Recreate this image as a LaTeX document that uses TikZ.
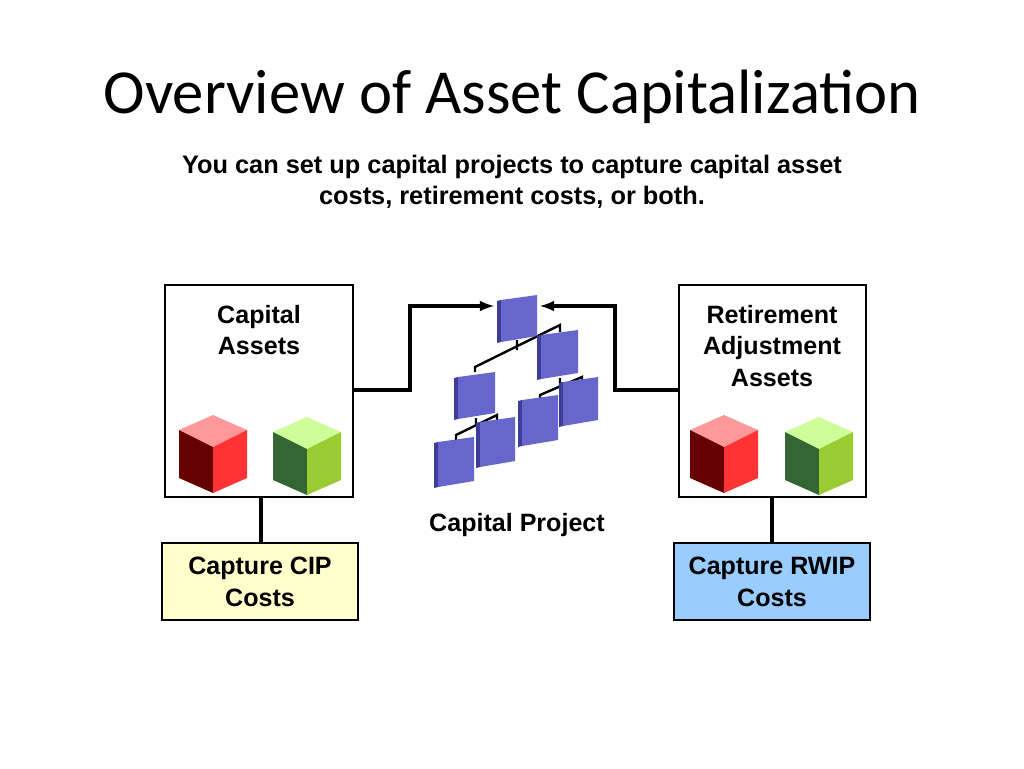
\documentclass[tikz,border=0pt]{standalone}
\usepackage{fontspec}
\setmainfont{Liberation Sans}
\newfontfamily\titlefont{Carlito}
\begin{document}
\begin{tikzpicture}[x=0.75pt,y=-0.75pt,
  frame/.style={draw,line width=2pt},
  lbl/.style={font=\bfseries\fontsize{18.8}{23.5}\selectfont,align=center},
  conn/.style={line width=2.6pt},
  org/.style={line width=1.8pt}]
\useasboundingbox (0,0) rectangle (1024,768);
\node[font=\titlefont\fontsize{47}{56}\selectfont] (title) at (512,97) {Overview of Asset Capitalization};
\node[font=\bfseries\fontsize{19}{23.5}\selectfont,align=center] (sub) at (512,182) {You can set up capital projects to capture capital asset\\costs, retirement costs, or both.};
% boxes
\draw[frame] (165,285) rectangle (353,497);
\coordinate (lb) at (353,390);
\node[lbl] (ltxt) at (259,330) {Capital\\Assets};
\draw[frame] (679,285) rectangle (866,497);
\coordinate (rb) at (679,390);
\node[lbl] (rtxt) at (772,346) {Retirement\\Adjustment\\Assets};
\draw[frame,fill={rgb,255:red,255;green,255;blue,204}] (162,543) rectangle (358,620);
\node[lbl] (ciptxt) at (260,582) {Capture CIP\\Costs};
\draw[frame,fill={rgb,255:red,153;green,204;blue,255}] (674,543) rectangle (870,620);
\node[lbl] (rwiptxt) at (772,582) {Capture RWIP\\Costs};
\draw[conn] (261,497) -- (261,543);
\draw[conn] (772,497) -- (772,543);
\node[lbl] (cp) at (517,525) {Capital Project};
% cubes
\newcommand\mycube[5]{%
 \fill[#3] (#1,#2) -- (#1+34,#2+15) -- (#1,#2+32) -- (#1-34,#2+15) -- cycle;
 \fill[#4] (#1-34,#2+15) -- (#1,#2+32) -- (#1,#2+78) -- (#1-34,#2+63) -- cycle;
 \fill[#5] (#1+34,#2+15) -- (#1,#2+32) -- (#1,#2+78) -- (#1+34,#2+63) -- cycle;}
\definecolor{rt}{HTML}{FF9999}\definecolor{rl}{HTML}{660000}\definecolor{rr}{HTML}{FF3333}
\definecolor{gt}{HTML}{CCFF99}\definecolor{gl}{HTML}{336633}\definecolor{gr}{HTML}{99CC33}
\mycube{213}{415}{rt}{rl}{rr}
\mycube{307}{417}{gt}{gl}{gr}
\mycube{724}{415}{rt}{rl}{rr}
\mycube{819}{417}{gt}{gl}{gr}
% org chart lines
\draw[org] (517,340) -- (517,350) (475,372) -- (475,367) -- (560,325) -- (560,332);
\draw[org] (476,418) -- (476,426) (456,440) -- (456,435) -- (497,415) -- (497,420);
\draw[org] (560,378) -- (560,386) (540,398) -- (540,395) -- (582,377) -- (582,381);
% org boxes
\definecolor{ob}{HTML}{6666CC}\definecolor{obd}{HTML}{3D3D99}
\newcommand\obox[4]{%
 \fill[obd] (#1,#2+6) -- (#1+4,#2+5) -- (#1+4,#4-1) -- (#1,#4) -- cycle;
 \fill[ob] (#1+4,#2+5) -- (#3,#2) -- (#3,#4-7) -- (#1+4,#4-1) -- cycle;}
\obox{497}{295}{537}{343}
\obox{537}{330}{578}{380}
\obox{454}{372}{495}{420}
\obox{559}{377}{598}{427}
\obox{518}{395}{558}{447}
\obox{476}{417}{515}{468}
\obox{434}{437}{474}{488}
\coordinate (tl) at (494,306);
\coordinate (tr) at (540,306);
\draw[conn,-latex] (lb) -- (410,390) -- (410,306) -- (tl);
\draw[conn,-latex] (rb) -- (615,390) -- (615,306) -- (tr);
\end{tikzpicture}
\end{document}
